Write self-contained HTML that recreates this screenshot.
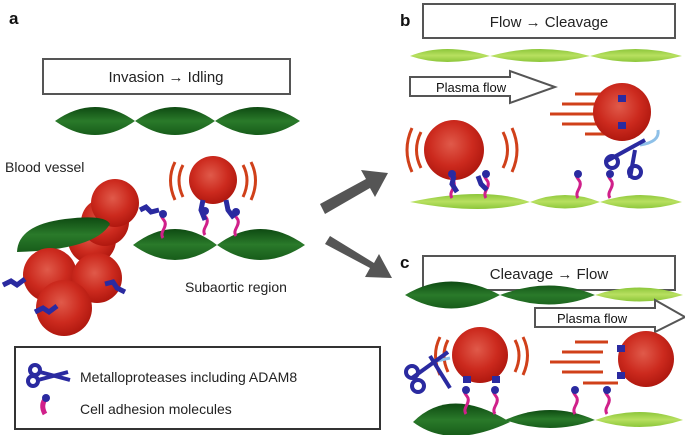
<!DOCTYPE html>
<html><head><meta charset="utf-8"><style>
html,body{margin:0;padding:0;background:#fff;}
svg{display:block;font-family:"Liberation Sans",sans-serif;}
</style></head><body>
<svg width="685" height="435" viewBox="0 0 685 435" xmlns="http://www.w3.org/2000/svg">
<defs>
<radialGradient id="rc" cx="0.45" cy="0.4" r="0.6"><stop offset="0" stop-color="#e05a4a"/><stop offset="0.6" stop-color="#cc2a1e"/><stop offset="1" stop-color="#b0180f"/></radialGradient>
<linearGradient id="dg" x1="0" y1="0" x2="0" y2="1"><stop offset="0" stop-color="#0e4a12"/><stop offset="0.5" stop-color="#2a7a2a"/><stop offset="1" stop-color="#175c1a"/></linearGradient>
<linearGradient id="lg" x1="0" y1="0" x2="0" y2="1"><stop offset="0" stop-color="#8cc63a"/><stop offset="0.5" stop-color="#b8e060"/><stop offset="1" stop-color="#8cc63a"/></linearGradient>
<g id="cam"><path d="M0,0 C-4,-6 4,-10 2,-16 C0,-20 -4,-22 0,-26" stroke="#d0208a" stroke-width="3" fill="none"/><circle cx="0" cy="-24" r="4" fill="#2a2aa0"/></g>
</defs>

<!-- panel a -->
<text x="9" y="24" font-size="17" font-weight="bold" fill="#111">a</text>
<rect x="43" y="59" width="247" height="35" fill="#fff" stroke="#555" stroke-width="2"/>
<text x="166" y="82" font-size="15" text-anchor="middle" fill="#222">Invasion → Idling</text>
<path d="M55,121 Q95,93 135,121 Q95,149 55,121Z M135,121 Q175,93 215,121 Q175,149 135,121Z M215,121 Q258,93 300,121 Q258,149 215,121Z" fill="url(#dg)"/>
<text x="5" y="172" font-size="14" fill="#222">Blood vessel</text>
<circle cx="92" cy="240" r="24" fill="url(#rc)"/>
<circle cx="105" cy="222" r="24" fill="url(#rc)"/>
<circle cx="115" cy="203" r="24" fill="url(#rc)"/>
<path d="M17,252 Q18,225 65,219 Q105,214 110,224 Q95,250 17,252Z" fill="url(#dg)"/>
<circle cx="50" cy="275" r="27" fill="url(#rc)"/>
<circle cx="97" cy="278" r="25" fill="url(#rc)"/>
<circle cx="64" cy="308" r="28" fill="url(#rc)"/>
<path d="M3,285 l8,-4 l6,4 l8,-6" stroke="#2a2aa0" stroke-width="5" fill="none"/>
<path d="M35,312 l8,-4 l6,4 l8,-6" stroke="#2a2aa0" stroke-width="5" fill="none"/>
<path d="M105,284 l8,-2 l4,6 l8,4" stroke="#2a2aa0" stroke-width="5" fill="none"/>
<path d="M140,210 l6,-3 l5,5 l8,-2" stroke="#2a2aa0" stroke-width="5" fill="none"/>
<path d="M133,245 Q175,213 217,245 Q175,275 133,245Z M217,245 Q260,213 305,245 Q260,275 217,245Z" fill="url(#dg)"/>
<use href="#cam" x="163" y="238"/>
<use href="#cam" x="205" y="235"/>
<use href="#cam" x="236" y="236"/>
<circle cx="213" cy="180" r="24" fill="url(#rc)"/>
<g stroke="#d0401a" stroke-width="3" fill="none">
<path d="M183,165 Q175,180 183,197"/><path d="M175,162 Q166,180 175,200"/>
<path d="M243,165 Q251,180 243,197"/><path d="M251,162 Q260,180 251,200"/></g>
<path d="M203,200 l-2,10 l4,10" stroke="#2a2aa0" stroke-width="5" fill="none"/>
<path d="M226,200 l2,10 l6,8" stroke="#2a2aa0" stroke-width="5" fill="none"/>
<text x="185" y="292" font-size="14" fill="#222">Subaortic region</text>
<!-- arrows -->
<g fill="#555"><path d="M320,204 L366,179 L361,170 L388,173 L375,197 L370,188 L325,214Z"/>
<path d="M325,244 L370,268 L365,277 L392,278 L379,254 L374,263 L330,236Z"/></g>

<!-- panel b -->
<text x="400" y="26" font-size="17" font-weight="bold" fill="#111">b</text>
<rect x="423" y="4" width="252" height="34" fill="#fff" stroke="#555" stroke-width="2"/>
<text x="549" y="27" font-size="15" text-anchor="middle" fill="#222">Flow → Cleavage</text>
<path d="M410,56 Q445,42 490,56 Q445,68 410,56Z M490,56 Q540,42 590,56 Q540,68 490,56Z M590,56 Q635,42 682,56 Q635,68 590,56Z" fill="url(#lg)"/>
<path d="M410,77 L510,77 L510,71 L555,87 L510,103 L510,96 L410,96Z" fill="#fff" stroke="#555" stroke-width="2"/>
<text x="436" y="92" font-size="13" fill="#111">Plasma flow</text>
<g stroke="#d0401a" stroke-width="3"><line x1="575" y1="94" x2="608" y2="94"/><line x1="562" y1="104" x2="603" y2="104"/><line x1="550" y1="114" x2="600" y2="114"/><line x1="562" y1="124" x2="603" y2="124"/><line x1="585" y1="134" x2="618" y2="134"/></g>
<circle cx="622" cy="112" r="29" fill="url(#rc)"/>
<rect x="618" y="95" width="8" height="7" fill="#2a2aa0"/><rect x="618" y="122" width="8" height="7" fill="#2a2aa0"/>
<path d="M658,130 Q660,142 640,145" stroke="#8ec0e8" stroke-width="3" fill="none"/>
<g stroke="#2a2aa0" stroke-width="4" fill="none"><path d="M645,140 L605,162"/><path d="M635,150 L630,178"/><circle cx="612" cy="162" r="6"/><circle cx="635" cy="172" r="6"/></g>
<circle cx="454" cy="150" r="30" fill="url(#rc)"/>
<g stroke="#d0401a" stroke-width="3" fill="none">
<path d="M421,132 Q412,150 421,168"/><path d="M412,128 Q402,150 412,172"/>
<path d="M503,132 Q512,150 503,168"/><path d="M512,128 Q522,150 512,172"/></g>
<path d="M410,202 Q485,186 530,202 Q485,216 410,202Z M530,202 Q565,188 600,202 Q565,215 530,202Z M600,202 Q640,188 682,202 Q640,215 600,202Z" fill="url(#lg)"/>
<use href="#cam" x="452" y="198"/><use href="#cam" x="486" y="198"/>
<use href="#cam" x="578" y="198"/><use href="#cam" x="610" y="198"/>
<path d="M454,176 l-2,8 l5,8" stroke="#2a2aa0" stroke-width="5" fill="none"/>
<path d="M478,176 l3,8 l6,6" stroke="#2a2aa0" stroke-width="5" fill="none"/>

<!-- panel c -->
<text x="400" y="268" font-size="17" font-weight="bold" fill="#111">c</text>
<rect x="423" y="256" width="252" height="34" fill="#fff" stroke="#555" stroke-width="2"/>
<text x="549" y="279" font-size="15" text-anchor="middle" fill="#222">Cleavage → Flow</text>
<path d="M405,295 Q450,268 500,295 Q450,322 405,295Z M500,295 Q550,276 595,295 Q550,314 500,295Z" fill="url(#dg)"/>
<path d="M595,295 Q640,280 683,295 Q640,308 595,295Z" fill="url(#lg)"/>
<path d="M535,308 L655,308 L655,300 L685,317 L655,332 L655,327 L535,327Z" fill="#fff" stroke="#555" stroke-width="2"/>
<text x="557" y="323" font-size="13" fill="#111">Plasma flow</text>
<circle cx="480" cy="355" r="28" fill="url(#rc)"/>
<g stroke="#d0401a" stroke-width="3" fill="none">
<path d="M448,340 Q440,355 448,372"/><path d="M440,337 Q431,355 440,375"/>
<path d="M515,340 Q523,355 515,372"/><path d="M523,337 Q532,355 523,375"/></g>
<rect x="463" y="376" width="8" height="7" fill="#2a2aa0"/><rect x="492" y="376" width="8" height="7" fill="#2a2aa0"/>
<path d="M432,362 L450,358" stroke="#8ec0e8" stroke-width="3"/>
<g stroke="#2a2aa0" stroke-width="4" fill="none"><path d="M448,352 L412,378"/><path d="M430,356 L450,388"/><circle cx="412" cy="372" r="6"/><circle cx="418" cy="386" r="6"/></g>
<g stroke="#d0401a" stroke-width="3"><line x1="575" y1="342" x2="608" y2="342"/><line x1="562" y1="352" x2="603" y2="352"/><line x1="550" y1="362" x2="600" y2="362"/><line x1="562" y1="372" x2="603" y2="372"/><line x1="583" y1="383" x2="618" y2="383"/></g>
<circle cx="646" cy="359" r="28" fill="url(#rc)"/>
<rect x="617" y="345" width="8" height="7" fill="#2a2aa0"/><rect x="617" y="372" width="8" height="7" fill="#2a2aa0"/>
<path d="M413,422 Q450,385 510,422 Q450,450 413,422Z" fill="url(#dg)"/>
<path d="M505,420 Q550,400 595,420 Q550,436 505,420Z" fill="url(#dg)"/>
<path d="M595,420 Q640,404 683,420 Q640,434 595,420Z" fill="url(#lg)"/>
<use href="#cam" x="466" y="414"/><use href="#cam" x="495" y="414"/>
<use href="#cam" x="575" y="414"/><use href="#cam" x="607" y="414"/>

<!-- legend -->
<rect x="15" y="347" width="365" height="82" fill="#fff" stroke="#333" stroke-width="2"/>
<g stroke="#2a2aa0" stroke-width="4" fill="none"><circle cx="35" cy="370" r="5"/><circle cx="33" cy="381" r="5"/><path d="M40,372 L70,380"/><path d="M38,380 L68,372"/></g>
<text x="80" y="382" font-size="14" fill="#222">Metalloproteases including ADAM8</text>
<path d="M45,414 Q40,405 46,398" stroke="#d0208a" stroke-width="5" fill="none"/><circle cx="46" cy="398" r="4" fill="#2a2aa0"/>
<text x="80" y="414" font-size="14" fill="#222">Cell adhesion molecules</text>
</svg>
</body></html>
